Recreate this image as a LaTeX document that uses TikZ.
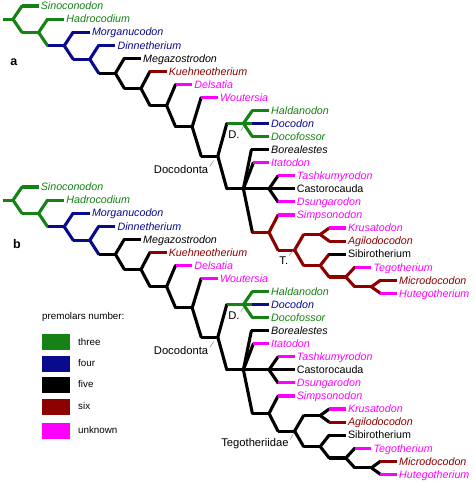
\documentclass[tikz,border=0pt]{standalone}
\usepackage{fontspec}
\setmainfont{Liberation Sans}
\usetikzlibrary{calc}
\definecolor{cG}{RGB}{20,130,20}
\definecolor{cB}{RGB}{10,10,140}
\definecolor{cK}{RGB}{0,0,0}
\definecolor{cR}{RGB}{140,0,0}
\definecolor{cM}{RGB}{255,0,255}
\definecolor{cL}{RGB}{165,165,165}
\tikzset{
  dg/.style={line width=3.1pt, line cap=round, line join=round},
  hz/.style={line width=3.1pt, line cap=butt},
  tx/.style={anchor=west, inner xsep=2pt, inner ysep=0pt, text height=7.7pt, text depth=0pt, font=\fontsize{10.7}{12}\selectfont\itshape},
  txu/.style={tx, font=\fontsize{10.7}{12}\selectfont},
  grp/.style={anchor=east, inner sep=0.5pt, text height=7.9pt, text depth=0pt, font=\fontsize{11.2}{13}\selectfont},
  leader/.style={draw=cL, line width=0.7pt},
  swatch/.style={minimum width=28pt, minimum height=16pt, inner sep=0pt, anchor=north west},
  legtx/.style={anchor=west, inner sep=0pt, font=\fontsize{9.8}{12}\selectfont},
  panel/.style={font=\fontsize{12.5}{14}\selectfont\bfseries, inner sep=0pt}
}
% #1 elbow dx, #2 parent, #3 child, #4 parent colour, #5 child colour
\newcommand\br[5][9]{%
  \draw[dg,#4] let \p1=(#2), \p2=(#3) in (\p1) -- (\x1+#1pt,\y2);
  \draw[hz,#5] let \p1=(#2), \p2=(#3) in (\x1+#1pt,\y2) -- (\p2);
}
% #1 prefix, #2 colour of Tegotheriidae branches, #3 y offset
\newcommand\mytree[3]{%
  \coordinate (#1R) at (3,{19.2+#3});
  \coordinate (#1V1) at (13,{19.2+#3});
  \coordinate (#1V2) at (38.6,{32.4+#3});
  \coordinate (#1V3) at (64.2,{45.7+#3});
  \coordinate (#1V4) at (89.8,{59.25+#3});
  \coordinate (#1V5) at (115.4,{73.3+#3});
  \coordinate (#1V6) at (141,{88.45+#3});
  \coordinate (#1V7) at (166.6,{105.6+#3});
  \coordinate (#1V8) at (192.2,{126.8+#3});
  \coordinate (#1V9) at (217.8,{156.15+#3});
  \coordinate (#1D) at (243.4,{123.5+#3});
  \coordinate (#1V10) at (243.4,{188.8+#3});
  \coordinate (#1V11) at (269,{188.8+#3});
  \coordinate (#1V12) at (269,{232.5+#3});
  \coordinate (#1V13) at (294.6,{250.05+#3});
  \coordinate (#1V14) at (320.2,{234.55+#3});
  \coordinate (#1V15) at (320.2,{265.55+#3});
  \coordinate (#1V16) at (345.8,{277+#3});
  \coordinate (#1V17) at (371.4,{286.8+#3});
  \node[tx,text=cG] (#1L0) at (38.6,{6+#3}) {Sinoconodon};
  \node[tx,text=cG] (#1L1) at (64.2,{19.1+#3}) {Hadrocodium};
  \node[tx,text=cB] (#1L2) at (89.8,{32.1+#3}) {Morganucodon};
  \node[tx,text=cB] (#1L3) at (115.4,{45.2+#3}) {Dinnetherium};
  \node[tx,text=cK] (#1L4) at (141,{58.2+#3}) {Megazostrodon};
  \node[tx,text=cR] (#1L5) at (166.6,{71.3+#3}) {Kuehneotherium};
  \node[tx,text=cM] (#1L6) at (192.2,{84.4+#3}) {Delsatia};
  \node[tx,text=cM] (#1L7) at (217.8,{97.4+#3}) {Woutersia};
  \node[tx,text=cG] (#1L8) at (269,{110.5+#3}) {Haldanodon};
  \node[tx,text=cB] (#1L9) at (269,{123.5+#3}) {Docodon};
  \node[tx,text=cG] (#1L10) at (269,{136.6+#3}) {Docofossor};
  \node[tx,text=cK] (#1L11) at (269,{149.7+#3}) {Borealestes};
  \node[tx,text=cM] (#1L12) at (269,{162.7+#3}) {Itatodon};
  \node[tx,text=cM] (#1L13) at (294.6,{175.8+#3}) {Tashkumyrodon};
  \node[txu,text=cK] (#1L14) at (294.6,{188.8+#3}) {Castorocauda};
  \node[tx,text=cM] (#1L15) at (294.6,{201.9+#3}) {Dsungarodon};
  \node[tx,text=cM] (#1L16) at (294.6,{215+#3}) {Simpsonodon};
  \node[tx,text=cM] (#1L17) at (345.8,{228+#3}) {Krusatodon};
  \node[tx,text=cR] (#1L18) at (345.8,{241.1+#3}) {Agilodocodon};
  \node[txu,text=cK] (#1L19) at (345.8,{254.1+#3}) {Sibirotherium};
  \node[tx,text=cM] (#1L20) at (371.4,{267.2+#3}) {Tegotherium};
  \node[tx,text=cR] (#1L21) at (397,{280.3+#3}) {Microdocodon};
  \node[tx,text=cM] (#1L22) at (397,{293.3+#3}) {Hutegotherium};
  \draw[hz,cG] (#1R) -- (#1V1);
  \br{#1V1}{#1L0.west}{cG}{cG}
  \br{#1V1}{#1V2}{cG}{cG}
  \br{#1V2}{#1L1.west}{cG}{cG}
  \br{#1V2}{#1V3}{cG}{cB}
  \br{#1V3}{#1L2.west}{cB}{cB}
  \br{#1V3}{#1V4}{cB}{cB}
  \br{#1V4}{#1L3.west}{cB}{cB}
  \br{#1V4}{#1V5}{cB}{cK}
  \br{#1V5}{#1L4.west}{cK}{cK}
  \br{#1V5}{#1V6}{cK}{cK}
  \br{#1V6}{#1L5.west}{cK}{cR}
  \br{#1V6}{#1V7}{cK}{cK}
  \br{#1V7}{#1L6.west}{cK}{cM}
  \br{#1V7}{#1V8}{cK}{cK}
  \br{#1V8}{#1L7.west}{cK}{cM}
  \br{#1V8}{#1V9}{cK}{cK}
  \br{#1V9}{#1D}{cK}{cG}
  \br{#1V9}{#1V10}{cK}{cK}
  \br{#1D}{#1L9.west}{cG}{cB}
  \br{#1D}{#1L8.west}{cG}{cG}
  \br{#1D}{#1L10.west}{cG}{cG}
  \draw[hz,cK] (#1V10) -- (#1V11);
  \br[8]{#1V10}{#1L11.west}{cK}{cK}
  \br[10]{#1V10}{#1L12.west}{cK}{cM}
  \br{#1V10}{#1V12}{cK}{#2}
  \draw[hz,cK] (#1V11) -- (#1L14.west);
  \br{#1V11}{#1L13.west}{cK}{cM}
  \br{#1V11}{#1L15.west}{cK}{cM}
  \br{#1V12}{#1L16.west}{#2}{cM}
  \br{#1V12}{#1V13}{#2}{#2}
  \br{#1V13}{#1V14}{#2}{#2}
  \br{#1V14}{#1L17.west}{#2}{cM}
  \br{#1V14}{#1L18.west}{#2}{cR}
  \br{#1V13}{#1V15}{#2}{#2}
  \br{#1V15}{#1L19.west}{#2}{cK}
  \br{#1V15}{#1V16}{#2}{#2}
  \br{#1V16}{#1L20.west}{#2}{cM}
  \br{#1V16}{#1V17}{#2}{#2}
  \br{#1V17}{#1L21.west}{#2}{cR}
  \br{#1V17}{#1L22.west}{#2}{cM}
  % group labels
  \node[grp] (#1Doc) at (208.8,{170+#3}) {Docodonta};
  \coordinate (#1DocA) at (209.8,{166.3+#3});
  \coordinate (#1DocB) at (213.8,{160.5+#3});
  \draw[leader] (#1DocA) -- (#1DocB);
  \node[grp] (#1Dl) at (240.3,{135+#3}) {D.};
  \coordinate (#1DlA) at (240.8,{130.8+#3});
  \coordinate (#1DlB) at (243.3,{126.8+#3});
  \draw[leader] (#1DlA) -- (#1DlB);
}
\begin{document}
\begin{tikzpicture}[x=1pt,y=-1pt]
  \useasboundingbox[fill=white] (0,0) rectangle (474,482);
  \mytree{a}{cR}{0}
  \mytree{b}{cK}{181}
  % T. label (tree a)
  \node[grp] (aT) at (288.8,260.5) {T.};
  \coordinate (aTA) at (289,255.5);
  \coordinate (aTB) at (292.8,251.2);
  \draw[leader] (aTA) -- (aTB);
  % Tegotheriidae label (tree b)
  \node[grp] (bT) at (289.3,442.3) {Tegotheriidae};
  \coordinate (bTA) at (290.3,439.5);
  \coordinate (bTB) at (293.8,432.8);
  \draw[leader] (bTA) -- (bTB);
  % panel letters
  \node[panel] (pa) at (13.8,62) {a};
  \node[panel] (pb) at (17,244.5) {b};
  % legend
  \node[legtx] (lt) at (42,317) {premolars number:};
  \node[swatch,fill=cG] (s1) at (42,334) {};
  \node[swatch,fill=cB] (s2) at (42,355.5) {};
  \node[swatch,fill=cK] (s3) at (42,377) {};
  \node[swatch,fill=cR] (s4) at (42,399) {};
  \node[swatch,fill=cM] (s5) at (42,422.5) {};
  \node[legtx] (l1) at (78,342) {three};
  \node[legtx] (l2) at (78,363) {four};
  \node[legtx] (l3) at (78,384) {five};
  \node[legtx] (l4) at (78,406) {six};
  \node[legtx] (l5) at (78,429.5) {unknown};
\end{tikzpicture}
\end{document}
